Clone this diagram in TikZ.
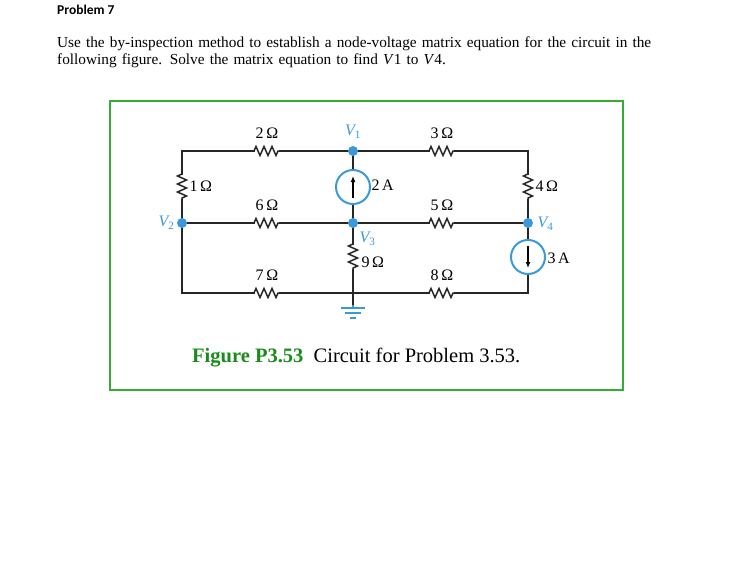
\documentclass[tikz,border=0pt]{standalone}
\usepackage{fontspec}
\usetikzlibrary{calc,arrows.meta}
\setmainfont{Liberation Serif}
\newfontfamily\calib{Carlito}
\begin{document}
\begin{tikzpicture}[x=1pt,y=-1pt,
  wire/.style={line width=1.5pt,black!85},
  vc/.style={circle,fill=cyan!70!blue!80,inner sep=0pt,minimum size=10pt},
  src/.style={circle,draw=cyan!70!blue!80,line width=2pt,minimum size=34pt,inner sep=0pt},
  lbl/.style={font=\fontsize{16}{16}\selectfont},
  vl/.style={font=\fontsize{16}{16}\selectfont\itshape,text=cyan!70!blue!80},
  pics/hres/.style={code={\draw[wire] (-18,0)--(-13,0)--(-11,-4.5)--(-7,4.5)--(-3,-4.5)--(1,4.5)--(5,-4.5)--(9,4.5)--(11,0)--(18,0);}},
  pics/vres/.style={code={\draw[wire] (0,-18)--(0,-13)--(-4.5,-11)--(4.5,-7)--(-4.5,-3)--(4.5,1)--(-4.5,5)--(4.5,9)--(0,11)--(0,18);}}]
\useasboundingbox (0,0) rectangle (746,575);
\node[anchor=west,font=\calib\bfseries\fontsize{13.5}{13.5}\selectfont,inner sep=0pt] (title) at (57,10) {Problem 7};
\node[anchor=north west,text width=612pt,align=left,font=\fontsize{15.3}{17}\selectfont,inner sep=0pt] (body) at (57,37)
 {Use the by-inspection method to establish a node-voltage matrix equation for the circuit in the following figure. Solve the matrix equation to find \textit{V}1 to \textit{V}4.};
\draw[line width=2pt,green!60!black!80] (110,101) rectangle (623,390);
% coordinates
\coordinate (tl) at (182,151); \coordinate (t1) at (353,151); \coordinate (tr) at (528,151);
\coordinate (ml) at (182,223); \coordinate (m3) at (353,223); \coordinate (mr) at (528,223);
\coordinate (bl) at (182,293); \coordinate (bm) at (353,293); \coordinate (br) at (528,293);
\coordinate (r2) at (267,151); \coordinate (r3) at (442,151); \coordinate (r6) at (267,223); \coordinate (r5) at (442,223);
\coordinate (r7) at (267,293); \coordinate (r8) at (442,293); \coordinate (r1) at (182,187); \coordinate (r4) at (528,187);
\coordinate (r9) at (353,257);
\draw[wire] (tl)--(tr)--(br)--(bl)--cycle;
\draw[wire] (ml)--(mr);
\draw[wire] (t1)--(bm)--(353,305);
\foreach \p in {r2,r3,r6,r5,r7,r8} {\fill[white] ($(\p)+(-12,-6)$) rectangle ($(\p)+(12,6)$); \pic at (\p) {hres};}
\foreach \p in {r1,r4,r9} {\fill[white] ($(\p)+(-6,-12)$) rectangle ($(\p)+(6,12)$); \pic at (\p) {vres};}
% sources
\node[src,fill=white] (s2) at (353,187) {};
\draw[-{Latex[length=6pt,width=5pt]},line width=1.2pt] (353,198)--(353,176);
\node[src,fill=white] (s3) at (528,257) {};
\draw[-{Latex[length=6pt,width=5pt]},line width=1.2pt] (528,246)--(528,268);
% ground
\draw[line width=2pt,cyan!70!blue!80] (353,305)--(353,308) (341,308)--(365,308) (345,313)--(361,313) (350,318)--(356,318);
% dots
\node[vc] (n1) at (t1) {}; \node[vc] (n2) at (ml) {}; \node[vc] (n3) at (m3) {}; \node[vc] (n4) at (mr) {};
% labels
\node[lbl] (l2) at (267,133) {2\,Ω};
\node[lbl] (l3) at (442,133) {3\,Ω};
\node[lbl] (l6) at (267,205) {6\,Ω};
\node[lbl] (l5) at (442,205) {5\,Ω};
\node[lbl] (l7) at (267,275) {7\,Ω};
\node[lbl] (l8) at (442,275) {8\,Ω};
\node[lbl,anchor=west] (l1) at (186,186) {1\,Ω};
\node[lbl,anchor=west] (l4) at (532,186) {4\,Ω};
\node[lbl,anchor=west] (l9) at (358,262) {9\,Ω};
\node[lbl,anchor=west] (la) at (368,185) {2\,A};
\node[lbl,anchor=west] (lb) at (544,258) {3\,A};
\node[vl] (v1) at (353,132) {V\textsubscript{\upshape 1}};
\node[vl,anchor=east] (v2) at (178,223) {V\textsubscript{\upshape 2}};
\node[vl,anchor=west] (v3) at (356,239) {V\textsubscript{\upshape 3}};
\node[vl,anchor=west] (v4) at (534,224) {V\textsubscript{\upshape 4}};
\node[anchor=west,font=\fontsize{20.5}{20.5}\selectfont,inner sep=0pt] (cap) at (192,358) {\textcolor{green!50!black!90}{\bfseries Figure P3.53}\ \ Circuit for Problem 3.53.};
\end{tikzpicture}
\end{document}
